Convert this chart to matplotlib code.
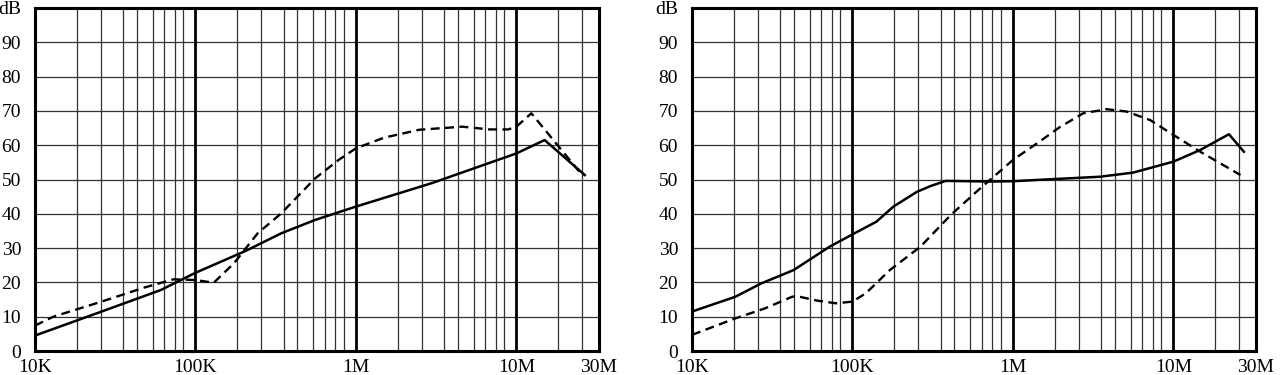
import numpy as np
import matplotlib
matplotlib.use('Agg')
from matplotlib import pyplot as plt

plt.rcParams['font.family'] = ['Liberation Serif', 'DejaVu Serif']

# frequencies in Hz, levels in dB
f_left_solid = [1.0e4, 2.6e4, 6.1e4, 1.0e5, 2.06e5, 3.42e5, 5.56e5, 1.0e6,
                3.0e6, 1.0e7, 1.5e7, 2.67e7]
db_left_solid = [4.5, 11.5, 17.8, 22.8, 29.2, 34.3, 38.2, 42.1,
                 49.0, 57.6, 61.5, 51.3]

f_left_dash = [1.0e4, 1.3e4, 2.6e4, 4.8e4, 7.3e4, 1.0e5, 1.3e5, 1.74e5, 2.44e5,
               3.42e5, 5.56e5, 7.8e5, 1.0e6, 1.5e6, 2.48e6, 4.6e6, 6.8e6,
               8.9e6, 1.0e7, 1.24e7, 2.6e7]
db_left_dash = [7.4, 10.0, 14.4, 18.5, 20.9, 20.7, 19.9, 25.6, 34.3,
                40.1, 50.3, 55.7, 59.1, 62.2, 64.5, 65.4, 64.6,
                64.6, 65.4, 69.3, 51.0]

f_right_solid = [1.0e4, 1.86e4, 2.7e4, 4.3e4, 7.2e4, 1.0e5, 1.41e5, 1.8e5,
                 2.52e5, 3.07e5, 3.82e5, 7.4e5, 1.0e6, 1.6e6, 3.47e6,
                 5.6e6, 1.0e7, 1.47e7, 2.22e7, 2.75e7]
db_right_solid = [11.5, 15.8, 19.7, 23.6, 30.4, 34.0, 37.7, 42.1,
                  46.4, 48.1, 49.6, 49.4, 49.5, 50.0, 50.8,
                  52.0, 55.2, 58.6, 63.2, 58.1]

f_right_dash = [1.0e4, 1.86e4, 2.84e4, 4.2e4, 4.5e4, 6.0e4, 7.9e4, 1.0e5,
                1.21e5, 1.71e5, 2.65e5, 4.11e5, 6.08e5, 1.0e6, 1.46e6,
                1.95e6, 2.74e6, 3.84e6, 5.13e6, 7.18e6, 1.0e7, 1.47e7,
                2.62e7]
db_right_dash = [4.7, 9.5, 12.4, 15.8, 16.0, 14.7, 13.9, 14.4,
                 16.8, 23.6, 30.4, 39.7, 46.9, 55.7, 61.0,
                 65.2, 69.3, 70.5, 69.8, 67.3, 63.0, 58.1,
                 51.3]

decades = [1e4, 1e5, 1e6, 1e7]
decade_labels = ['10K', '100K', '1M', '10M']
x_end = 10 ** 7.515
end_label = '30M'
# the printed grid puts the 2..9 lines at these fractions of a decade
minor_frac = [0.26, 0.41, 0.55, 0.635, 0.735, 0.805, 0.87, 0.925]
y_ticks = [0, 10, 20, 30, 40, 50, 60, 70, 80, 90, 100]
y_labels = ['0', '10', '20', '30', '40', '50', '60', '70', '80', '90', 'dB']


def draw_panel(ax, fs, ds, fd, dd):
    ax.set_xscale('log')
    ax.set_xlim(decades[0], x_end)
    ax.set_ylim(0, 100)

    minors = [d * 10 ** fr for d in decades for fr in minor_frac]
    minors = [m for m in minors if m < x_end]
    for m in minors:
        ax.axvline(m, color='#333333', lw=0.9, zorder=1)
    for d in decades[1:]:
        ax.axvline(d, color='black', lw=2.0, zorder=2)
    for y in y_ticks[1:-1]:
        ax.axhline(y, color='#333333', lw=0.9, zorder=1)

    ax.plot(fs, ds, color='black', lw=1.8, zorder=3)
    ax.plot(fd, dd, color='black', lw=1.7, linestyle=(0, (3.8, 2.3)), zorder=3)

    ax.set_xticks(decades + [x_end])
    ax.set_xticklabels(decade_labels + [end_label])
    ax.set_xticks([], minor=True)
    ax.set_yticks(y_ticks)
    ax.set_yticklabels(y_labels)
    ax.tick_params(axis='both', length=0, labelsize=14)
    ax.tick_params(axis='x', pad=6)
    ax.tick_params(axis='y', pad=10)
    for s in ax.spines.values():
        s.set_linewidth(2.2)
        s.set_zorder(4)


fig = plt.figure(figsize=(12.85, 3.75), dpi=100)
ax1 = fig.add_axes([35 / 1285, 24 / 375, 564 / 1285, 343 / 375])
ax2 = fig.add_axes([692 / 1285, 24 / 375, 564 / 1285, 343 / 375])

draw_panel(ax1, f_left_solid, db_left_solid, f_left_dash, db_left_dash)
draw_panel(ax2, f_right_solid, db_right_solid, f_right_dash, db_right_dash)

fig.savefig('out.png', dpi=100)
